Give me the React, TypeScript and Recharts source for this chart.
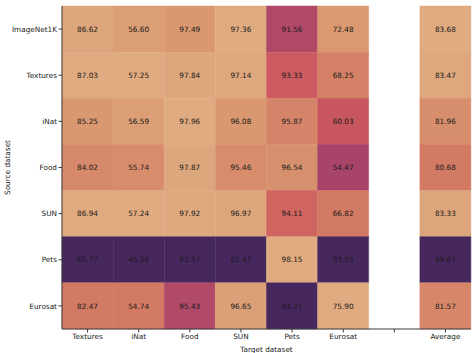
import React from 'react';
import { BarChart, Bar, XAxis, YAxis, Cell, LabelList, Label } from 'recharts';

// Source datasets (rows, top to bottom)
const sources = ['ImageNet1K', 'Textures', 'iNat', 'Food', 'SUN', 'Pets', 'Eurosat'];
// Target datasets (columns); the empty name is the spacer before the average
const targets = ['Textures', 'iNat', 'Food', 'SUN', 'Pets', 'Eurosat', '', 'Average'];

// Accuracy per source row: Textures, iNat, Food, SUN, Pets, Eurosat, Average
const imagenet1k = [86.62, 56.6, 97.49, 97.36, 91.56, 72.48, 83.68];
const texturesRow = [87.03, 57.25, 97.84, 97.14, 93.33, 68.25, 83.47];
const inatRow = [85.25, 56.59, 97.96, 96.08, 95.87, 60.03, 81.96];
const foodRow = [84.02, 55.74, 97.87, 95.46, 96.54, 54.47, 80.68];
const sunRow = [86.94, 57.24, 97.92, 96.97, 94.11, 66.82, 83.33];
const petsRow = [65.77, 45.5, 92.57, 82.47, 98.15, 33.53, 69.67];
const eurosatRow = [82.47, 54.74, 95.43, 96.65, 84.21, 75.9, 81.57];

const rows = [imagenet1k, texturesRow, inatRow, foodRow, sunRow, petsRow, eurosatRow];
const GAP_COLUMN = 6;

// flare-style colour ramp (light -> dark)
const ramp: [number, string][] = [
  [0, '#e0ab80'],
  [0.02, '#dda67c'],
  [0.09, '#d9976f'],
  [0.14, '#d6896b'],
  [0.215, '#d37a64'],
  [0.29, '#d0645f'],
  [0.346, '#cc5a60'],
  [0.375, '#c8565f'],
  [0.473, '#b04868'],
  [0.506, '#a84469'],
  [0.6, '#923c6c'],
  [0.714, '#7a326c'],
  [0.857, '#5e2b66'],
  [1, '#46285e'],
];

const hexToRgb = (h: string) => [1, 3, 5].map((i) => parseInt(h.slice(i, i + 2), 16));

function rampColor(p: number): string {
  const x = Math.max(0, Math.min(1, p));
  for (let k = 0; k < ramp.length - 1; k++) {
    const [p0, c0] = ramp[k];
    const [p1, c1] = ramp[k + 1];
    if (x <= p1) {
      const f = (x - p0) / (p1 - p0);
      const a = hexToRgb(c0);
      const b = hexToRgb(c1);
      const m = a.map((v, i) => Math.round(v + (b[i] - v) * f));
      return `rgb(${m[0]},${m[1]},${m[2]})`;
    }
  }
  return ramp[ramp.length - 1][1];
}

// value index within a row for a given table column
const valueIndex = (col: number) => (col < GAP_COLUMN ? col : col - 1);

// per-column colour scaling: highest value is lightest
const columnColor = (col: number, value: number) => {
  const vals = rows.map((r) => r[valueIndex(col)]);
  const lo = Math.min(...vals);
  const hi = Math.max(...vals);
  return rampColor(1 - (value - lo) / (hi - lo));
};

const table = targets.map((name, col) => {
  const entry: Record<string, string | number | null> = { target: name };
  rows.forEach((r, i) => {
    const gap = col === GAP_COLUMN;
    entry[`c${i}`] = gap ? null : 1;
    entry[`v${i}`] = gap ? null : r[valueIndex(col)];
  });
  return entry;
});

const FONT = 'DejaVu Sans, sans-serif';
const AXIS = '#3a3a3a';
const rowTicks = sources.map((_, i) => i + 0.5);

export default function App() {
  return (
    <div style={{ position: 'absolute', left: 0, top: 0 }}>
      <BarChart
        width={474}
        height={353}
        data={table}
        margin={{ top: 6, right: 3, bottom: 0, left: 0 }}
        barCategoryGap={0}
        barGap={0}
        style={{ fontFamily: FONT }}
      >
        <XAxis
          dataKey="target"
          type="category"
          height={24}
          tickSize={3.5}
          tickMargin={1.5}
          interval={0}
          stroke={AXIS}
          tick={{ fontSize: 7.3, fill: '#222', fontFamily: FONT }}
        >
          <Label value="Target dataset" position="insideBottom" offset={1.5} style={{ fontSize: 7.3, fill: '#222', fontFamily: FONT }} />
        </XAxis>
        <XAxis xAxisId="top" dataKey="target" orientation="top" height={0} tick={false} tickLine={false} stroke={AXIS} />
        <YAxis
          type="number"
          domain={[0, sources.length]}
          ticks={rowTicks}
          reversed
          width={62}
          tickSize={3.5}
          tickMargin={1.5}
          interval={0}
          stroke={AXIS}
          tickFormatter={(v: number) => sources[Math.floor(v)]}
          tick={{ fontSize: 7.3, fill: '#222', fontFamily: FONT }}
        >
          <Label
            value="Source dataset"
            angle={-90}
            position="insideLeft"
            offset={7}
            style={{ fontSize: 7.3, fill: '#222', fontFamily: FONT, textAnchor: 'middle' }}
          />
        </YAxis>
        <YAxis yAxisId="right" orientation="right" type="number" domain={[0, sources.length]} width={0} tick={false} tickLine={false} stroke={AXIS} />
        {sources.map((src, i) => (
          <Bar key={src} dataKey={`c${i}`} stackId="cells" isAnimationActive={false}>
            {table.map((entry, col) => {
              const v = entry[`v${i}`] as number | null;
              const fill = v == null ? 'none' : columnColor(col, v);
              return <Cell key={col} fill={fill} stroke={fill} strokeWidth={0.5} />;
            })}
            <LabelList
              dataKey={`v${i}`}
              position="center"
              formatter={(v: any) => (v == null ? '' : Number(v).toFixed(2))}
              style={{ fontSize: 7.3, fill: '#1a1a1a', fontFamily: FONT }}
            />
          </Bar>
        ))}
      </BarChart>
    </div>
  );
}
